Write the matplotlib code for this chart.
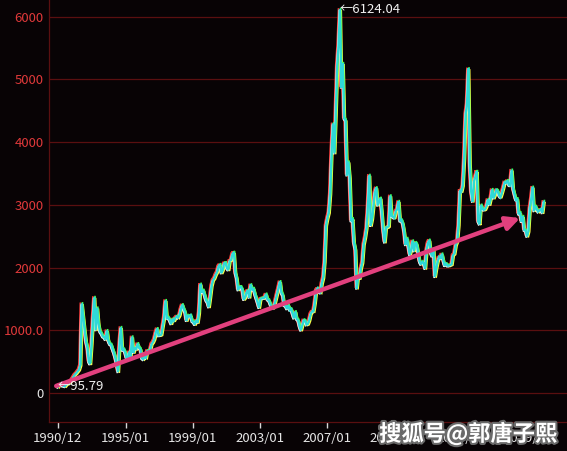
import matplotlib
matplotlib.use('Agg')
import numpy as np
import pandas as pd
import matplotlib.pyplot as plt
import matplotlib.patheffects as pe
from matplotlib.transforms import offset_copy

plt.rcParams['font.family'] = ['Noto Sans CJK SC', 'DejaVu Sans']

# monthly index level, 1990/12 .. 2019/12
close = [
    96,
    130, 133, 120, 112, 105, 137, 145, 179, 180, 218, 259, 292,          # 1991
    313, 342, 372, 446, 1430, 1220, 1010, 820, 720, 500, 460, 780,       # 1992
    1180, 1530, 1000, 1360, 1100, 980, 950, 900, 890, 850, 1000, 833,    # 1993
    780, 770, 700, 640, 560, 460, 333, 750, 1050, 680, 700, 647,         # 1994
    560, 560, 660, 570, 900, 640, 710, 700, 790, 720, 700, 555,          # 1995
    537, 570, 560, 680, 650, 680, 780, 810, 860, 960, 1030, 917,         # 1996
    920, 930, 1060, 1200, 1480, 1190, 1200, 1160, 1100, 1180, 1150, 1194,
    1220, 1200, 1240, 1340, 1410, 1340, 1290, 1150, 1230, 1220, 1240, 1146,
    1130, 1090, 1160, 1120, 1280, 1740, 1600, 1640, 1560, 1480, 1450, 1367,
    1530, 1710, 1800, 1830, 1890, 1930, 2020, 2050, 1910, 1960, 2070, 2073,
    1990, 1960, 2110, 2120, 2220, 2245, 1920, 1830, 1640, 1690, 1690, 1646,
    1490, 1520, 1600, 1640, 1520, 1730, 1640, 1670, 1580, 1510, 1440, 1357,
    1500, 1510, 1510, 1520, 1580, 1490, 1480, 1420, 1370, 1350, 1400, 1497,
    1590, 1680, 1780, 1600, 1560, 1400, 1390, 1340, 1400, 1320, 1340, 1266,
    1190, 1300, 1180, 1160, 1060, 998, 1080, 1160, 1150, 1090, 1100, 1161,
    1260, 1300, 1300, 1440, 1640, 1670, 1610, 1600, 1750, 1840, 2100, 2675,
    2790, 2880, 3180, 3840, 4300, 3820, 4470, 5220, 5550, 6124, 4870, 5262,
    4380, 4350, 3470, 3690, 3430, 2740, 2780, 2400, 2290, 1664, 1870, 1821,
    1990, 2080, 2370, 2480, 2630, 2960, 3478, 2670, 2780, 2990, 3200, 3277,
    2990, 3050, 3110, 2870, 2590, 2400, 2640, 2640, 2660, 3150, 2820, 2808,
    2790, 2900, 2930, 3060, 2740, 2760, 2700, 2570, 2360, 2470, 2330, 2199,
    2290, 2430, 2260, 2400, 2370, 2230, 2100, 2050, 2090, 2070, 1980, 2269,
    2390, 2440, 2240, 2180, 2300, 1850, 1990, 2100, 2170, 2140, 2220, 2116,
    2030, 2060, 2030, 2030, 2040, 2050, 2200, 2220, 2360, 2420, 2680, 3234,
    3210, 3310, 3750, 4440, 4610, 5178, 3660, 3210, 3050, 3380, 3450, 3539,
    2740, 2690, 3000, 2940, 2920, 2930, 2980, 3090, 3000, 3100, 3250, 3104,
    3160, 3240, 3220, 3150, 3120, 3190, 3270, 3360, 3350, 3390, 3320, 3307,
    3560, 3260, 3170, 3080, 3100, 2850, 2880, 2730, 2820, 2600, 2590, 2494,
    2580, 2940, 3090, 3288, 2900, 2980, 2930, 2890, 2910, 2930, 2870, 3050,
]

dates = pd.date_range('1990-12-01', periods=len(close), freq='MS')
years = dates.year + (dates.month - 0.5) / 12.0

peak_value = 6124.04
start_value = 95.79

# trend arrow (data units)
arrow_start = (1990.85, 112)
arrow_end = (2018.55, 2790)

xtick_pos = [1990.95, 1995.0, 1999.0, 2003.0, 2007.0, 2011.0, 2015.0, 2019.0]
xtick_labels = ['1990/12', '1995/01', '1999/01', '2003/01', '2007/01',
                '2011/01', '2015/01', '2019/01']
ytick_pos = [0, 1000, 2000, 3000, 4000, 5000, 6000]
ytick_labels = ['0', '1000.0', '2000', '3000', '4000', '5000', '6000']

bg = '#080305'
grid_red = '#5a0f10'
tick_red = '#e0393a'

fig = plt.figure(figsize=(5.67, 4.51), dpi=100, facecolor=bg)
ax = fig.add_axes([49/567, 29/451, 518/567, 422/451], facecolor=bg)

# rainbow-ish overlapping lines
layers = [('#ff3b3b', -1.4, 0.8), ('#ffff4a', 1.3, -0.8),
          ('#3cff5a', 0.7, 1.2), ('#f4f4f4', -0.7, -1.0),
          ('#2fd8d8', 0.0, 0.0)]
for col, dx, dy in layers:
    tr = offset_copy(ax.transData, fig=fig, x=dx, y=dy, units='dots')
    lw = 1.6 if col == '#2fd8d8' else 1.2
    ax.plot(years, close, color=col, lw=lw, transform=tr, solid_joinstyle='miter')

ax.set_xlim(1990.42, 2021.35)
ax.set_ylim(-463, 6268)

ax.set_yticks(ytick_pos)
ax.set_yticklabels(ytick_labels)
for lab in ax.get_yticklabels():
    lab.set_color(tick_red)
ax.get_yticklabels()[0].set_color('#e6e6e6')
ax.tick_params(axis='y', length=0, labelsize=9.5, pad=4)

ax.set_xticks(xtick_pos)
ax.set_xticklabels(xtick_labels)
ax.tick_params(axis='x', colors='#d8d8d8', labelcolor='#e6e6e6', length=4,
               width=1, labelsize=9.5, pad=3)

ax.grid(axis='y', color=grid_red, lw=0.9)
ax.set_axisbelow(True)
for side in ['top', 'right']:
    ax.spines[side].set_visible(False)
for side in ['left', 'bottom']:
    ax.spines[side].set_color(grid_red)
    ax.spines[side].set_linewidth(0.9)

ax.annotate('', xy=arrow_end, xytext=arrow_start,
            arrowprops=dict(arrowstyle='-|>', color='#e2407e', lw=3.2,
                            mutation_scale=20, shrinkA=0, shrinkB=0))

peak_x = years[close.index(max(close))]
ax.text(peak_x, peak_value, '\u2190' + f'{peak_value:.2f}', color='#f0f0f0',
        fontsize=9.5, ha='left', va='center')
ax.text(years[0], start_value, '\u2190' + f'{start_value:.2f}', color='#f0f0f0',
        fontsize=9.5, ha='left', va='center')

# watermark sits over the last tick labels, as in the source image
fig.text(0.983, 0.037, '搜狐号@郭唐子熙', color='white', fontsize=16,
         fontweight='bold', ha='right', va='center',
         path_effects=[pe.withStroke(linewidth=3, foreground='#6a6a6a')])

fig.savefig('out.png', dpi=100, facecolor=bg)
